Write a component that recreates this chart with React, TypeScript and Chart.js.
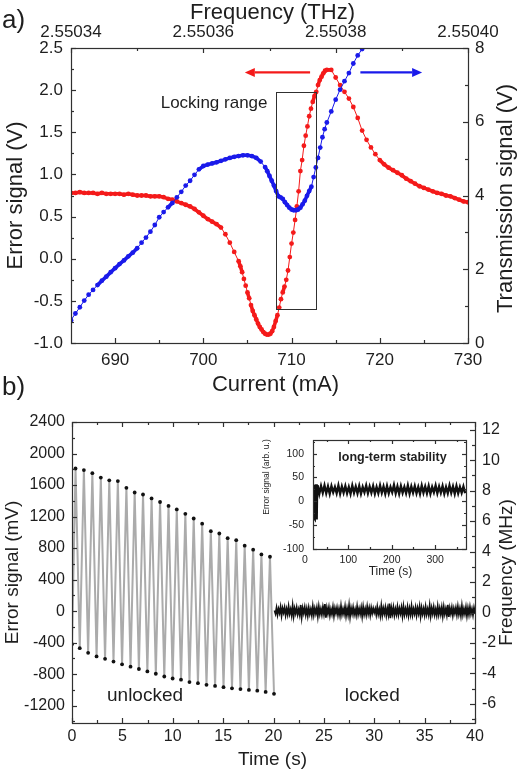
import React, { useEffect, useRef } from "react";
import { Chart, registerables } from "chart.js";

Chart.register(...registerables);

const FONT = '"Liberation Sans", Arial, Helvetica, sans-serif';
const INK = "#1e1e1e";
const AXIS = "#303030";
const RED = "#f41a1a";
const BLUE = "#1a1aea";
const GRAY = "#ababab";

// ---------------- Panel a data ----------------
const redCurrent = [
  685, 685.5, 686, 686.5, 687, 687.5, 688, 688.5, 689, 689.5, 690, 690.5, 691, 691.5, 692, 692.5, 693, 693.5, 694, 694.5,
  695, 695.5, 696, 696.5, 697, 697.5, 698, 698.5, 699, 699.5, 700, 700.5, 701, 701.5, 702, 702.5, 703, 703.5,
  704, 704.2, 704.4, 704.6, 704.8, 705, 705.2, 705.4, 705.6, 705.8, 706, 706.2, 706.4, 706.6, 706.8, 707, 707.2, 707.4,
  707.6, 707.8, 708, 708.2, 708.4, 708.6, 708.8, 709, 709.2, 709.4, 709.6, 709.8, 710, 710.2, 710.4, 710.6, 710.8, 711,
  711.2, 711.4, 711.6, 711.8, 712, 712.2, 712.4, 712.6, 712.8, 713, 713.2, 713.4, 713.6, 713.8, 714,
  714.5, 715, 715.5, 716, 716.5, 717, 717.5, 718, 718.5, 719, 719.5, 720, 720.5, 721, 721.5, 722, 722.5, 723, 723.5, 724,
  724.5, 725, 725.5, 726, 726.5, 727, 727.5, 728, 728.5, 729, 729.5, 730,
];
const redErrorV = [
  0.78, 0.78, 0.79, 0.78, 0.78, 0.78, 0.77, 0.78, 0.77, 0.77, 0.77, 0.77, 0.76, 0.77, 0.76, 0.75, 0.75, 0.75, 0.74, 0.74,
  0.74, 0.73, 0.71, 0.7, 0.68, 0.66, 0.64, 0.62, 0.59, 0.55, 0.51, 0.47, 0.44, 0.41, 0.37, 0.29, 0.19, 0.08,
  -0.03, -0.09, -0.16, -0.24, -0.32, -0.4, -0.47, -0.55, -0.62, -0.67, -0.72, -0.77, -0.81, -0.84, -0.87, -0.89, -0.9, -0.9,
  -0.89, -0.86, -0.81, -0.74, -0.67, -0.58, -0.48, -0.4, -0.33, -0.25, -0.14, 0.02, 0.18, 0.31, 0.46, 0.62, 0.8, 1.04,
  1.17, 1.34, 1.46, 1.57, 1.69, 1.78, 1.86, 1.93, 1.98, 2.06, 2.12, 2.16, 2.2, 2.23, 2.24,
  2.24, 2.15, 2.06, 1.98, 1.9, 1.8, 1.67, 1.52, 1.41, 1.32, 1.24, 1.17, 1.12, 1.08, 1.05, 1.02, 0.99, 0.95, 0.92, 0.89,
  0.86, 0.84, 0.82, 0.8, 0.78, 0.77, 0.75, 0.74, 0.72, 0.7, 0.68, 0.67,
];
const blueCurrent = [
  685, 685.5, 686, 686.5, 687, 687.5, 688, 688.5, 689, 689.5, 690, 690.5, 691, 691.5, 692, 692.5, 693, 693.5, 694, 694.5,
  695, 695.5, 696, 696.5, 697, 697.5, 698, 698.5, 699, 699.5, 700, 700.5, 701, 701.5, 702, 702.5, 703, 703.5, 704, 704.5,
  705, 705.5, 706, 706.5, 707,
  707.25, 707.5, 707.75, 708, 708.25, 708.5, 708.75, 709, 709.25, 709.5, 709.75, 710, 710.25, 710.5, 710.75, 711,
  711.25, 711.5, 711.75, 712, 712.25, 712.5, 712.75, 713, 713.25, 713.5, 713.75, 714,
  714.5, 715, 715.5, 716, 716.5, 717, 717.5, 718, 718.5,
];
const blueTransV = [
  0.62, 0.8, 0.97, 1.15, 1.31, 1.44, 1.57, 1.69, 1.8, 1.92, 2.03, 2.14, 2.24, 2.35, 2.45, 2.57, 2.72, 2.86, 3.02, 3.2,
  3.41, 3.55, 3.68, 3.8, 3.95, 4.1, 4.27, 4.4, 4.56, 4.71, 4.8, 4.84, 4.87, 4.9, 4.94, 4.98, 5.02, 5.05, 5.07, 5.09,
  5.09, 5.07, 5.02, 4.92, 4.77,
  4.66, 4.53, 4.4, 4.27, 4.12, 3.98, 3.95, 3.91, 3.82, 3.74, 3.67, 3.62, 3.6, 3.6, 3.62, 3.67,
  3.76, 3.86, 3.99, 4.12, 4.24, 4.5, 4.76, 5.02, 5.3, 5.58, 5.8, 5.98,
  6.28, 6.6, 6.87, 7.1, 7.32, 7.58, 7.8, 7.97, 8.2,
];
const currentTicks = [690, 700, 710, 720, 730];
const currentMinor = [695, 705, 715, 725];
const errorTicksV = [-1, -0.5, 0, 0.5, 1, 1.5, 2, 2.5];
const errorMinorV = [-0.75, -0.25, 0.25, 0.75, 1.25, 1.75, 2.25];
const transTicksV = [0, 2, 4, 6, 8];
const transMinorV = [1, 3, 5, 7];
const freqTicksTHz = [2.55034, 2.55036, 2.55038, 2.5504];
const freqMinorTHz = [2.55035, 2.55037, 2.55039];
const lockBox = { fromMA: 708.25, toMA: 712.75, lowV: -0.6, highV: 1.98 };
const arrowLevelV = 2.21;
const redArrow = { fromMA: 712.1, toMA: 704.7 };
const blueArrow = { fromMA: 717.8, toMA: 724.8 };

// ---------------- Panel b data ----------------
const unlockStart = { t: 0, mv: -420 };
const peakSec = [0.35, 1.18, 2.02, 2.86, 3.7, 4.55, 5.4, 6.22, 7.05, 7.9, 8.74, 9.58, 10.4, 11.25, 12.08, 12.92, 13.78, 14.62, 15.45, 16.3, 17.14, 17.98, 18.8, 19.65];
const peakMv = [1810, 1790, 1750, 1695, 1660, 1650, 1565, 1505, 1480, 1430, 1385, 1335, 1290, 1235, 1175, 1110, 1015, 985, 925, 900, 830, 780, 720, 690];
const troughSec = [0.77, 1.6, 2.44, 3.28, 4.12, 4.97, 5.81, 6.64, 7.48, 8.32, 9.16, 9.99, 10.82, 11.66, 12.5, 13.35, 14.2, 15.04, 15.88, 16.72, 17.56, 18.39, 19.22, 20.05];
const troughMv = [-470, -530, -575, -605, -640, -675, -705, -735, -765, -795, -830, -855, -870, -900, -915, -935, -950, -965, -980, -990, -1000, -1010, -1025, -1050];
const lockedStartSec = 20.1;
const lockedStepSec = 0.1;
const lockedMv = [
  8, -32, 41, -45, 28, -22, 52, -55, 35, -18, 44, -49, 26, -41, 58, -34, 22, -54, 67, -62,
  33, -28, 45, -42, 20, -47, 78, -72, 37, -25, 49, -44, 30, -57, 42, -35, 24, -52, 60, -46,
  34, -29, 41, -66, 55, -37, 27, -43, 48, -33, 88, -83, 39, -30, 46, -54, 23, -38, 50, -59,
  35, -26, 43, -47, 28, -52, 62, -41, 25, -36, 54, -58, 32, -45, 70, -68, 37, -31, 47, -42,
  21, -49, 57, -40, 30, -35, 44, -63, 52, -39, 27, -46, 55, -33, 38, -50, 42, -27, 35, -19,
  29, -44, 51, -38, 24, -57, 64, -48, 36, -30, 45, -53, 31, -42, 95, -90, 40, -34, 48, -51,
  26, -39, 53, -45, 33, -28, 47, -60, 56, -43, 29, -37, 50, -55, 34, -41, 61, -47, 27, -33,
  45, -52, 38, -29, 57, -64, 42, -36, 31, -48, 54, -40, 25, -45, 66, -58, 39, -32, 49, -44,
  23, -50, 59, -41, 35, -38, 46, -62, 51, -37, 28, -47, 80, -75, 36, -31, 44, -53, 33, -27,
  40, -46, 55, -39, 30, -56, 63, -45, 28, -35, 48, -57, 37, -42, 52, -34, 26, -49, 41, -25,
];
const timeTicks = [0, 5, 10, 15, 20, 25, 30, 35, 40];
const timeMinor = [2.5, 7.5, 12.5, 17.5, 22.5, 27.5, 32.5, 37.5];
const mvTicks = [-1200, -800, -400, 0, 400, 800, 1200, 1600, 2000, 2400];
const mvMinor = [-1400, -1000, -600, -200, 200, 600, 1000, 1400, 1800, 2200];
const mhzTicks = [-6, -4, -2, 0, 2, 4, 6, 8, 10, 12];
const mhzMinor = [-7, -5, -3, -1, 1, 3, 5, 7, 9, 11];
const unlockedLabelAt = { t: 7.25, mv: -1070 };
const lockedLabelAt = { t: 29.8, mv: -1070 };

// ---------------- Inset data ----------------
const insetSpikeSec = [19, 20, 21, 22, 23, 24, 25, 26, 27, 28];
const insetSpikeVal = [0, 34, -35, 33, -37, 35, -33, 36, -38, 32];
const insetBandStartSec = 29;
const insetBandStepSec = 4;
const insetBandVal = [
  34, 16, 32, 18, 33, 17, 31, 16, 32, 19, 30, 17, 33, 16, 31, 18, 32, 17, 30, 16,
  33, 18, 31, 17, 32, 16, 30, 19, 33, 17, 31, 18, 32, 16, 30, 17, 33, 18, 31, 16,
  32, 17, 30, 19, 34, 17, 31, 16, 32, 18, 30, 17, 33, 16, 31, 18, 32, 17, 30, 16,
  33, 18, 31, 17, 32, 16, 30, 19, 33, 17, 31, 18, 32, 16, 30, 17, 33, 18, 31, 16,
  32, 17, 30, 18, 31, 17,
];
const insetTimeTicks = [0, 100, 200, 300];
const insetTimeMinor = [50, 150, 250, 350];
const insetValTicks = [-100, -50, 0, 50, 100];
const insetValMinor = [-75, -25, 25, 75, 125];

// ---------------- helpers ----------------
type Side = "left" | "right" | "top" | "bottom";
interface TickSpec { id: string; side: Side; major: number[]; minor: number[]; big?: number; small?: number }

function drawText(ctx: CanvasRenderingContext2D, text: string, x: number, y: number, font: string, rot = 0, align: CanvasTextAlign = "center") {
  ctx.save();
  ctx.translate(x, y);
  ctx.rotate(rot);
  ctx.font = font;
  ctx.fillStyle = INK;
  ctx.textAlign = align;
  ctx.textBaseline = "middle";
  ctx.fillText(text, 0, 0);
  ctx.restore();
}

function drawArrow(ctx: CanvasRenderingContext2D, x0: number, x1: number, y: number, color: string) {
  const dir = Math.sign(x1 - x0);
  const head = 10;
  ctx.save();
  ctx.strokeStyle = color;
  ctx.fillStyle = color;
  ctx.lineWidth = 2.2;
  ctx.beginPath();
  ctx.moveTo(x0, y);
  ctx.lineTo(x1 - dir * head, y);
  ctx.stroke();
  ctx.beginPath();
  ctx.moveTo(x1, y);
  ctx.lineTo(x1 - dir * head, y - 4.5);
  ctx.lineTo(x1 - dir * head, y + 4.5);
  ctx.closePath();
  ctx.fill();
  ctx.restore();
}

function makeFrame(specs: TickSpec[], overlay: (chart: any) => void) {
  return {
    id: "frameTicks",
    afterDraw(chart: any) {
      const { ctx, chartArea } = chart;
      const l = Math.round(chartArea.left);
      const r = Math.round(chartArea.right);
      const t = Math.round(chartArea.top);
      const b = Math.round(chartArea.bottom);
      ctx.save();
      ctx.strokeStyle = AXIS;
      ctx.lineWidth = 1.2;
      ctx.strokeRect(l + 0.5, t + 0.5, r - l, b - t);
      for (const s of specs) {
        const sc = chart.scales[s.id];
        const run = (vals: number[], len: number) => {
          for (const v of vals) {
            const p = Math.round(sc.getPixelForValue(v)) + 0.5;
            ctx.beginPath();
            if (s.side === "bottom" || s.side === "top") {
              if (p < l - 1 || p > r + 1) continue;
              const y0 = s.side === "bottom" ? b : t;
              const y1 = s.side === "bottom" ? b - len : t + len;
              ctx.moveTo(p, y0);
              ctx.lineTo(p, y1);
            } else {
              if (p < t - 1 || p > b + 1) continue;
              const x0 = s.side === "left" ? l : r;
              const x1 = s.side === "left" ? l + len : r - len;
              ctx.moveTo(x0, p);
              ctx.lineTo(x1, p);
            }
            ctx.stroke();
          }
        };
        run(s.major, s.big ?? 5);
        run(s.minor, s.small ?? 3);
      }
      ctx.restore();
      overlay(chart);
    },
  };
}

function axis(o: {
  position: Side; min: number; max: number; ticks: number[]; size: number; font: number; pad: number; fmt: (v: number) => string; show?: boolean;
}) {
  const horizontal = o.position === "top" || o.position === "bottom";
  return {
    type: "linear",
    axis: horizontal ? "x" : "y",
    position: o.position,
    min: o.min,
    max: o.max,
    grid: { display: false, drawTicks: false },
    border: { display: false },
    title: { display: false },
    ticks: {
      display: o.show !== false,
      autoSkip: false,
      maxRotation: 0,
      minRotation: 0,
      padding: o.pad,
      color: INK,
      font: { family: FONT, size: o.font },
      callback: (v: any) => o.fmt(Number(v)),
    },
    afterBuildTicks: (s: any) => {
      s.ticks = o.ticks.map((v) => ({ value: v }));
    },
    afterFit: (s: any) => {
      if (horizontal) s.height = o.size;
      else s.width = o.size;
    },
  };
}

// dense runs of markers read as one thick trace, sparse steps keep a thin joining line
const traceWidth = (ctx: any) => {
  const dx = ctx.p1.x - ctx.p0.x;
  const dy = ctx.p1.y - ctx.p0.y;
  return Math.hypot(dx, dy) > 6.5 ? 1 : 3.6;
};

const baseOptions = {
  responsive: false,
  animation: false,
  events: [] as any[],
  plugins: { legend: { display: false }, tooltip: { enabled: false } },
};

export default function App() {
  const aRef = useRef<HTMLCanvasElement>(null);
  const bRef = useRef<HTMLCanvasElement>(null);
  const iRef = useRef<HTMLCanvasElement>(null);

  useEffect(() => {
    const charts: Chart[] = [];

    // ---------- Panel a ----------
    const overlayA = (chart: any) => {
      const { ctx } = chart;
      const sx = chart.scales.x;
      const sy = chart.scales.y;
      const area = chart.chartArea;
      const bx0 = Math.round(sx.getPixelForValue(lockBox.fromMA)) + 0.5;
      const bx1 = Math.round(sx.getPixelForValue(lockBox.toMA)) + 0.5;
      const by0 = Math.round(sy.getPixelForValue(lockBox.highV)) + 0.5;
      const by1 = Math.round(sy.getPixelForValue(lockBox.lowV)) + 0.5;
      ctx.save();
      ctx.strokeStyle = AXIS;
      ctx.lineWidth = 1;
      ctx.strokeRect(bx0, by0, bx1 - bx0, by1 - by0);
      ctx.restore();
      drawText(ctx, "Locking range", bx0 - 9, by0 + 11, `17px ${FONT}`, 0, "right");
      const ay = sy.getPixelForValue(arrowLevelV);
      drawArrow(ctx, sx.getPixelForValue(redArrow.fromMA), sx.getPixelForValue(redArrow.toMA), ay, RED);
      drawArrow(ctx, sx.getPixelForValue(blueArrow.fromMA), sx.getPixelForValue(blueArrow.toMA), ay, BLUE);
      const cx = (area.left + area.right) / 2;
      const cy = (area.top + area.bottom) / 2;
      drawText(ctx, "Frequency (THz)", cx + 3, 13, `22px ${FONT}`);
      drawText(ctx, "Current (mA)", cx + 6, 385, `22px ${FONT}`);
      drawText(ctx, "Error signal (V)", 16, cy, `22px ${FONT}`, -Math.PI / 2);
      drawText(ctx, "Transmission signal (V)", 506, cy + 3, `22px ${FONT}`, -Math.PI / 2);
      drawText(ctx, "a)", 2, 21, `26px ${FONT}`, 0, "left");
      drawText(ctx, "b)", 2, 388, `26px ${FONT}`, 0, "left");
    };

    if (aRef.current) {
      charts.push(
        new Chart(aRef.current, {
          type: "line",
          data: {
            datasets: [
              {
                data: blueCurrent.map((c, i) => ({ x: c, y: blueTransV[i] })),
                xAxisID: "x",
                yAxisID: "y2",
                borderColor: BLUE,
                backgroundColor: BLUE,
                borderWidth: 1,
                segment: { borderWidth: traceWidth },
                pointRadius: 2.4,
                pointBorderWidth: 0,
                pointBackgroundColor: BLUE,
              },
              {
                data: redCurrent.map((c, i) => ({ x: c, y: redErrorV[i] })),
                xAxisID: "x",
                yAxisID: "y",
                borderColor: RED,
                backgroundColor: RED,
                borderWidth: 1,
                segment: { borderWidth: traceWidth },
                pointRadius: 2.4,
                pointBorderWidth: 0,
                pointBackgroundColor: RED,
              },
            ],
          },
          options: {
            ...baseOptions,
            layout: { padding: 0 },
            scales: {
              x: axis({ position: "bottom", min: 685, max: 730, ticks: currentTicks, size: 57, font: 17, pad: 7, fmt: (v) => String(v) }),
              xTop: axis({ position: "top", min: 2.55034, max: 2.5504, ticks: freqTicksTHz, size: 48, font: 17, pad: 5, fmt: (v) => v.toFixed(5) }),
              y: axis({ position: "left", min: -1, max: 2.5, ticks: errorTicksV, size: 71, font: 17, pad: 8, fmt: (v) => v.toFixed(1) }),
              y2: axis({ position: "right", min: 0, max: 8, ticks: transTicksV, size: 52, font: 17, pad: 7, fmt: (v) => String(v) }),
            },
          } as any,
          plugins: [
            makeFrame(
              [
                { id: "x", side: "bottom", major: currentTicks, minor: currentMinor },
                { id: "xTop", side: "top", major: freqTicksTHz, minor: freqMinorTHz },
                { id: "y", side: "left", major: errorTicksV, minor: errorMinorV },
                { id: "y2", side: "right", major: transTicksV, minor: transMinorV },
              ],
              overlayA
            ),
          ],
        } as any)
      );
    }

    // ---------- Panel b ----------
    const unlockedPts: { x: number; y: number }[] = [{ x: unlockStart.t, y: unlockStart.mv }];
    peakSec.forEach((t, i) => {
      unlockedPts.push({ x: t, y: peakMv[i] });
      unlockedPts.push({ x: troughSec[i], y: troughMv[i] });
    });
    const lockedPts = lockedMv.map((v, i) => ({ x: lockedStartSec + i * lockedStepSec, y: v }));

    const overlayB = (chart: any) => {
      const { ctx } = chart;
      const sx = chart.scales.x;
      const sy = chart.scales.y;
      const area = chart.chartArea;
      const cx = (area.left + area.right) / 2;
      const cy = (area.top + area.bottom) / 2;
      drawText(ctx, "unlocked", sx.getPixelForValue(unlockedLabelAt.t), sy.getPixelForValue(unlockedLabelAt.mv), `19px ${FONT}`);
      drawText(ctx, "locked", sx.getPixelForValue(lockedLabelAt.t), sy.getPixelForValue(lockedLabelAt.mv), `19px ${FONT}`);
      drawText(ctx, "Time (s)", cx - 1, 360, `19px ${FONT}`);
      drawText(ctx, "Error signal (mV)", 13, cy, `19px ${FONT}`, -Math.PI / 2);
      drawText(ctx, "Frequency (MHz)", 507, cy, `19px ${FONT}`, -Math.PI / 2);
    };

    if (bRef.current) {
      charts.push(
        new Chart(bRef.current, {
          type: "line",
          data: {
            datasets: [
              {
                data: lockedPts,
                xAxisID: "x",
                yAxisID: "y",
                borderColor: "#111",
                borderWidth: 1.8,
                pointRadius: 0,
              },
              {
                data: unlockedPts,
                xAxisID: "x",
                yAxisID: "y",
                borderColor: GRAY,
                borderWidth: 2,
                pointRadius: 1.9,
                pointBorderWidth: 0,
                pointBackgroundColor: "#111",
              },
            ],
          },
          options: {
            ...baseOptions,
            layout: { padding: { top: 22 } },
            scales: {
              x: axis({ position: "bottom", min: 0, max: 40, ticks: timeTicks, size: 50, font: 16, pad: 4, fmt: (v) => String(v) }),
              y: axis({ position: "left", min: -1420, max: 2400, ticks: mvTicks, size: 72, font: 16, pad: 7, fmt: (v) => String(v) }),
              y2: axis({ position: "right", min: -7.25, max: 12.5, ticks: mhzTicks, size: 45, font: 16, pad: 7, fmt: (v) => String(v) }),
            },
          } as any,
          plugins: [
            makeFrame(
              [
                { id: "x", side: "bottom", major: timeTicks, minor: timeMinor },
                { id: "x", side: "top", major: timeTicks, minor: timeMinor },
                { id: "y", side: "left", major: mvTicks, minor: mvMinor },
                { id: "y2", side: "right", major: mhzTicks, minor: mhzMinor },
              ],
              overlayB
            ),
          ],
        } as any)
      );
    }

    // ---------- Inset ----------
    const insetPts = [
      ...insetSpikeSec.map((t, i) => ({ x: t, y: insetSpikeVal[i] })),
      ...insetBandVal.map((v, i) => ({ x: insetBandStartSec + i * insetBandStepSec, y: v })),
    ];
    const overlayI = (chart: any) => {
      const { ctx } = chart;
      const area = chart.chartArea;
      const sx = chart.scales.x;
      const cx = (area.left + area.right) / 2;
      for (const v of insetTimeTicks) {
        drawText(ctx, String(v), sx.getPixelForValue(v), area.bottom + 11, `10.5px ${FONT}`);
      }
      drawText(ctx, "long-term stability", cx + 3, 33, `bold 12.5px ${FONT}`);
      drawText(ctx, "Time (s)", cx + 1, 147, `12px ${FONT}`);
      drawText(ctx, "Error signal (arb. u.)", 17, 52, `8.5px ${FONT}`, -Math.PI / 2);
    };
    if (iRef.current) {
      charts.push(
        new Chart(iRef.current, {
          type: "line",
          data: {
            datasets: [
              {
                data: insetPts,
                xAxisID: "x",
                yAxisID: "y",
                borderColor: "#111",
                borderWidth: 2.4,
                pointRadius: 0,
              },
            ],
          },
          options: {
            ...baseOptions,
            layout: { padding: { top: 10, right: 6 } },
            scales: {
              x: axis({ position: "bottom", min: 18.5, max: 371, ticks: insetTimeTicks, size: 36, font: 10.5, pad: 4, fmt: (v) => String(v), show: false }),
              y: axis({ position: "left", min: -100, max: 128, ticks: insetValTicks, size: 63, font: 10.5, pad: 9, fmt: (v) => String(v) }),
            },
          } as any,
          plugins: [
            makeFrame(
              [
                { id: "x", side: "bottom", major: insetTimeTicks, minor: insetTimeMinor, big: 4, small: 2 },
                { id: "x", side: "top", major: insetTimeTicks, minor: insetTimeMinor, big: 4, small: 2 },
                { id: "y", side: "left", major: insetValTicks, minor: insetValMinor, big: 4, small: 2 },
                { id: "y", side: "right", major: insetValTicks, minor: insetValMinor, big: 4, small: 2 },
              ],
              overlayI
            ),
          ],
        } as any)
      );
    }

    return () => {
      charts.forEach((c) => c.destroy());
    };
  }, []);

  return (
    <div style={{ position: "absolute", left: 0, top: 0, width: 520, height: 773, background: "#fff", overflow: "hidden" }}>
      <canvas ref={aRef} width={520} height={400} style={{ position: "absolute", left: 0, top: 0 }} />
      <canvas ref={bRef} width={520} height={373} style={{ position: "absolute", left: 0, top: 400 }} />
      <canvas ref={iRef} width={222} height={160} style={{ position: "absolute", left: 250, top: 425 }} />
    </div>
  );
}
